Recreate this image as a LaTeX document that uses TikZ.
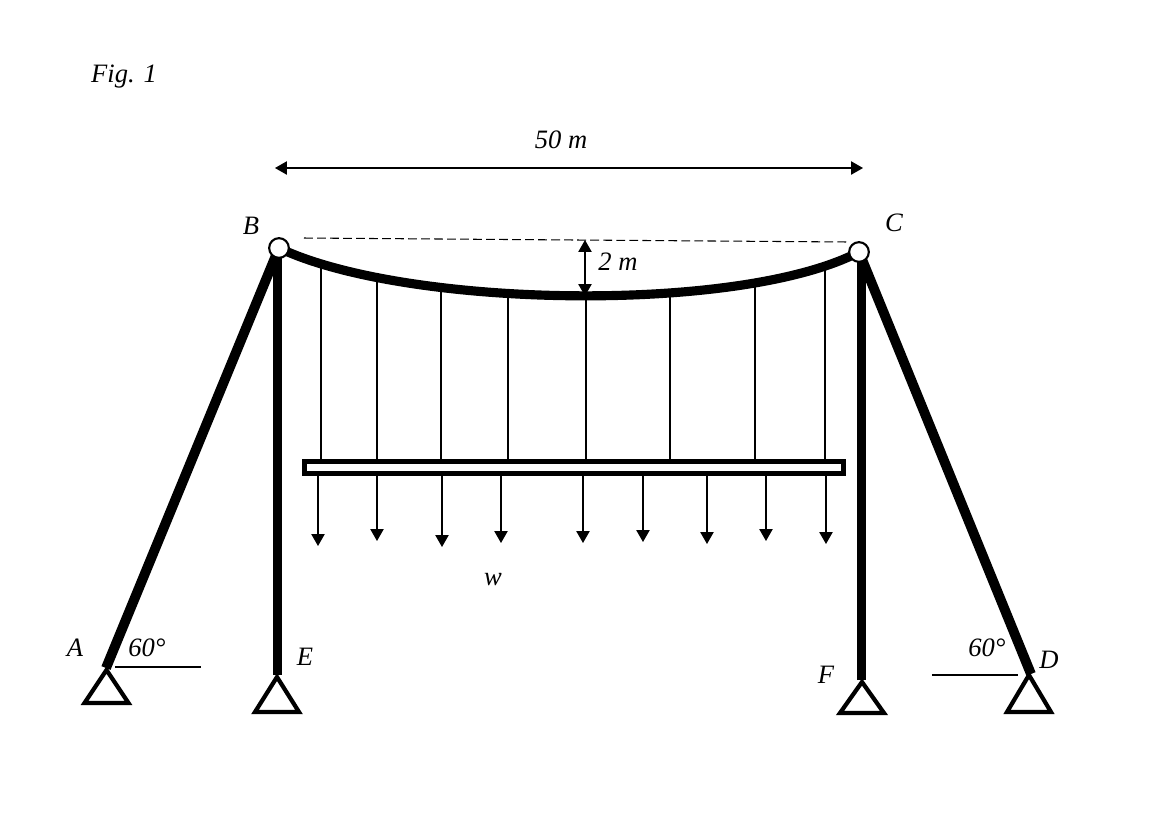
\documentclass[tikz,border=0pt]{standalone}
\usepackage{fontspec}
\setmainfont{Liberation Serif}
\usetikzlibrary{arrows.meta}
\tikzset{
  member/.style={line width=2.8pt},
  cable/.style={line width=2.6pt},
  thin line/.style={line width=.3pt},
  load/.style={line width=.32pt,-{Triangle[length=3.4pt,width=3.8pt]}},
  dim/.style={line width=.32pt,{Triangle[length=3.4pt,width=3.8pt]}-{Triangle[length=3.4pt,width=3.8pt]}},
  support/.style={line width=1.2pt,miter limit=10},
  hinge/.style={circle,draw,fill=white,line width=.6pt,minimum size=5.6pt,inner sep=0pt},
  lbl/.style={inner sep=0pt,font=\fontsize{7.55}{9}\selectfont\itshape}
}
\begin{document}
\begin{tikzpicture}[x=.01cm,y=-.01cm]
   \useasboundingbox (0,0) rectangle (1162,829);
   % joints and support tops
   \coordinate (jB) at (279,248);
   \coordinate (jC) at (859,252);
   \coordinate (A) at (106,668);
   \coordinate (D) at (1031,674);
   \coordinate (E) at (277.5,675);
   \coordinate (F) at (861.5,680);
   \coordinate (Btop) at (277.5,250);
   \coordinate (Ctop) at (861.5,254);
   % frame
   \draw[member] (A) -- (jB);
   \draw[member] (E) -- (Btop);
   \draw[member] (F) -- (Ctop);
   \draw[member] (D) -- (jC);
   \draw[cable] (jB) .. controls (405,308) and (740,314) .. (jC);
   \node[hinge] (B) at (jB) {};
   \node[hinge] (C) at (jC) {};
   % supports
   \foreach \x/\yt/\yb in {106.5/670/703,277/677/712,862/682/713,1029/675/712}{
      \draw[support] (\x,\yt) -- (\x-22,\yb) -- (\x+22,\yb) -- cycle;
   }
   % deck
   \node[draw,line width=1.45pt,minimum width=5.39cm,minimum height=.12cm,inner sep=0pt] (deck) at (574,467.5) {};
   % hangers
   \foreach \x/\y in {321/264,377/279,441/289,508/295,586/296,670/293,755/281,825/264}{
      \coordinate (top) at (\x,\y);
      \coordinate (bot) at (\x,461);
      \draw[thin line] (top) -- (bot);
   }
   % loads
   \foreach \x/\y in {318/546,377/541,442/547,501/543,583/543,643/542,707/544,766/541,826/544}{
      \coordinate (top) at (\x,475);
      \coordinate (bot) at (\x,\y);
      \draw[load] (top) -- (bot);
   }
   % dimensions
   \coordinate (da) at (304,238);
   \coordinate (db) at (850,242);
   \draw[thin line,dash pattern=on 2.5pt off 1.2pt] (da) -- (db);
   \coordinate (sl) at (275,168);
   \coordinate (sr) at (863,168);
   \draw[dim] (sl) -- (sr);
   \coordinate (st) at (585,240);
   \coordinate (sb) at (585,296);
   \draw[dim] (st) -- (sb);
   % angle lines
   \coordinate (a1) at (115,667);
   \coordinate (a2) at (201,667);
   \coordinate (d1) at (932,675);
   \coordinate (d2) at (1018,675);
   \draw[thin line] (a1) -- (a2);
   \draw[thin line] (d1) -- (d2);
   % labels
   \node[lbl] (fig) at (124,77) {Fig. 1};
   \node[lbl] (span) at (561,140) {50 m};
   \node[lbl] (sag) at (618,262) {2 m};
   \node[lbl] (lB) at (251,226) {B};
   \node[lbl] (lC) at (894,223) {C};
   \node[lbl] (lA) at (75,648) {A};
   \node[lbl] (lE) at (305,657) {E};
   \node[lbl] (lF) at (826,675) {F};
   \node[lbl] (lD) at (1049,660) {D};
   \node[lbl] (aA) at (147,648) {60°};
   \node[lbl] (aD) at (987,648) {60°};
   \node[lbl] (w) at (493,580) {w};
\end{tikzpicture}
\end{document}
